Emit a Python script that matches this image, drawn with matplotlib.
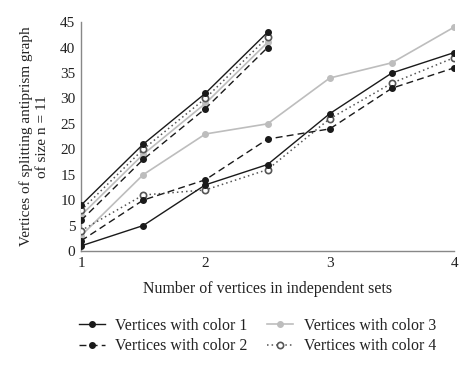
import matplotlib
matplotlib.use('Agg')
import matplotlib.pyplot as plt
from matplotlib.lines import Line2D

plt.rcParams['font.family'] = ['Liberation Serif', 'DejaVu Serif']

# ---- data ----
x_short = [1, 1.5, 2, 2.5]
x_long = [1, 1.5, 2, 2.5, 3, 3.5, 4]

c1_upper = [9, 21, 31, 43]
c2_upper = [6, 18, 28, 40]
c3_upper = [7, 19, 29, 41]
c4_upper = [8, 20, 30, 42]

c1_lower = [1, 5, 13, 17, 27, 35, 39]
c2_lower = [2, 10, 14, 22, 24, 32, 36]
c3_lower = [3, 15, 23, 25, 34, 37, 44]
c4_lower = [4, 11, 12, 16, 26, 33, 38]

labels = ["Vertices with color 1", "Vertices with color 2",
          "Vertices with color 3", "Vertices with color 4"]

# ---- styles ----
styles = [
    dict(color='#1a1a1a', linestyle='-', marker='o', markersize=4,
         markerfacecolor='#1a1a1a', markeredgecolor='#1a1a1a', linewidth=1.0),
    dict(color='#1a1a1a', linestyle=(0, (5, 3)), marker='o', markersize=4,
         markerfacecolor='#1a1a1a', markeredgecolor='#1a1a1a', linewidth=1.0),
    dict(color='#bdbdbd', linestyle='-', marker='o', markersize=4,
         markerfacecolor='#bdbdbd', markeredgecolor='#bdbdbd', linewidth=1.2),
    dict(color='#555555', linestyle=(0, (1, 2)), marker='o', markersize=4.5,
         markerfacecolor='white', markeredgecolor='#555555',
         markeredgewidth=1.2, linewidth=1.1),
]

fig = plt.figure(figsize=(4.74, 3.68), dpi=100)
ax = fig.add_axes([0.171, 0.318, 0.787, 0.622])

uppers = [c1_upper, c2_upper, c3_upper, c4_upper]
lowers = [c1_lower, c2_lower, c3_lower, c4_lower]
order = [2, 3, 1, 0]
for i in order:
    ax.plot(x_short, uppers[i], **styles[i], zorder=3 + (i != 2))
    ax.plot(x_long, lowers[i], **styles[i], zorder=3 + (i != 2))

ax.set_xlim(1, 4)
ax.set_ylim(0, 45)
ax.set_xticks([1, 2, 3, 4])
ax.set_yticks(range(0, 46, 5))
ax.tick_params(length=0, labelsize=11, colors='#222222', pad=4)
for s in ['top', 'right']:
    ax.spines[s].set_visible(False)
for s in ['left', 'bottom']:
    ax.spines[s].set_color('#888888')
    ax.spines[s].set_linewidth(1.0)

ax.set_xlabel("Number of vertices in independent sets", fontsize=11.4,
              color='#222222', labelpad=8)
ax.set_ylabel("Vertices of splitting antiprism graph\nof size n = 11",
              fontsize=11, color='#222222', labelpad=8, linespacing=1.35)

handles = [Line2D([], [], **styles[i]) for i in range(4)]
fig.legend(handles, labels, loc='center', bbox_to_anchor=(0.543, 0.087),
           ncol=2, frameon=False, fontsize=11.4, handlelength=1.65,
           columnspacing=1.25, handletextpad=0.65, labelspacing=0.3,
           labelcolor='#222222')

fig.savefig('out.png', dpi=100)
